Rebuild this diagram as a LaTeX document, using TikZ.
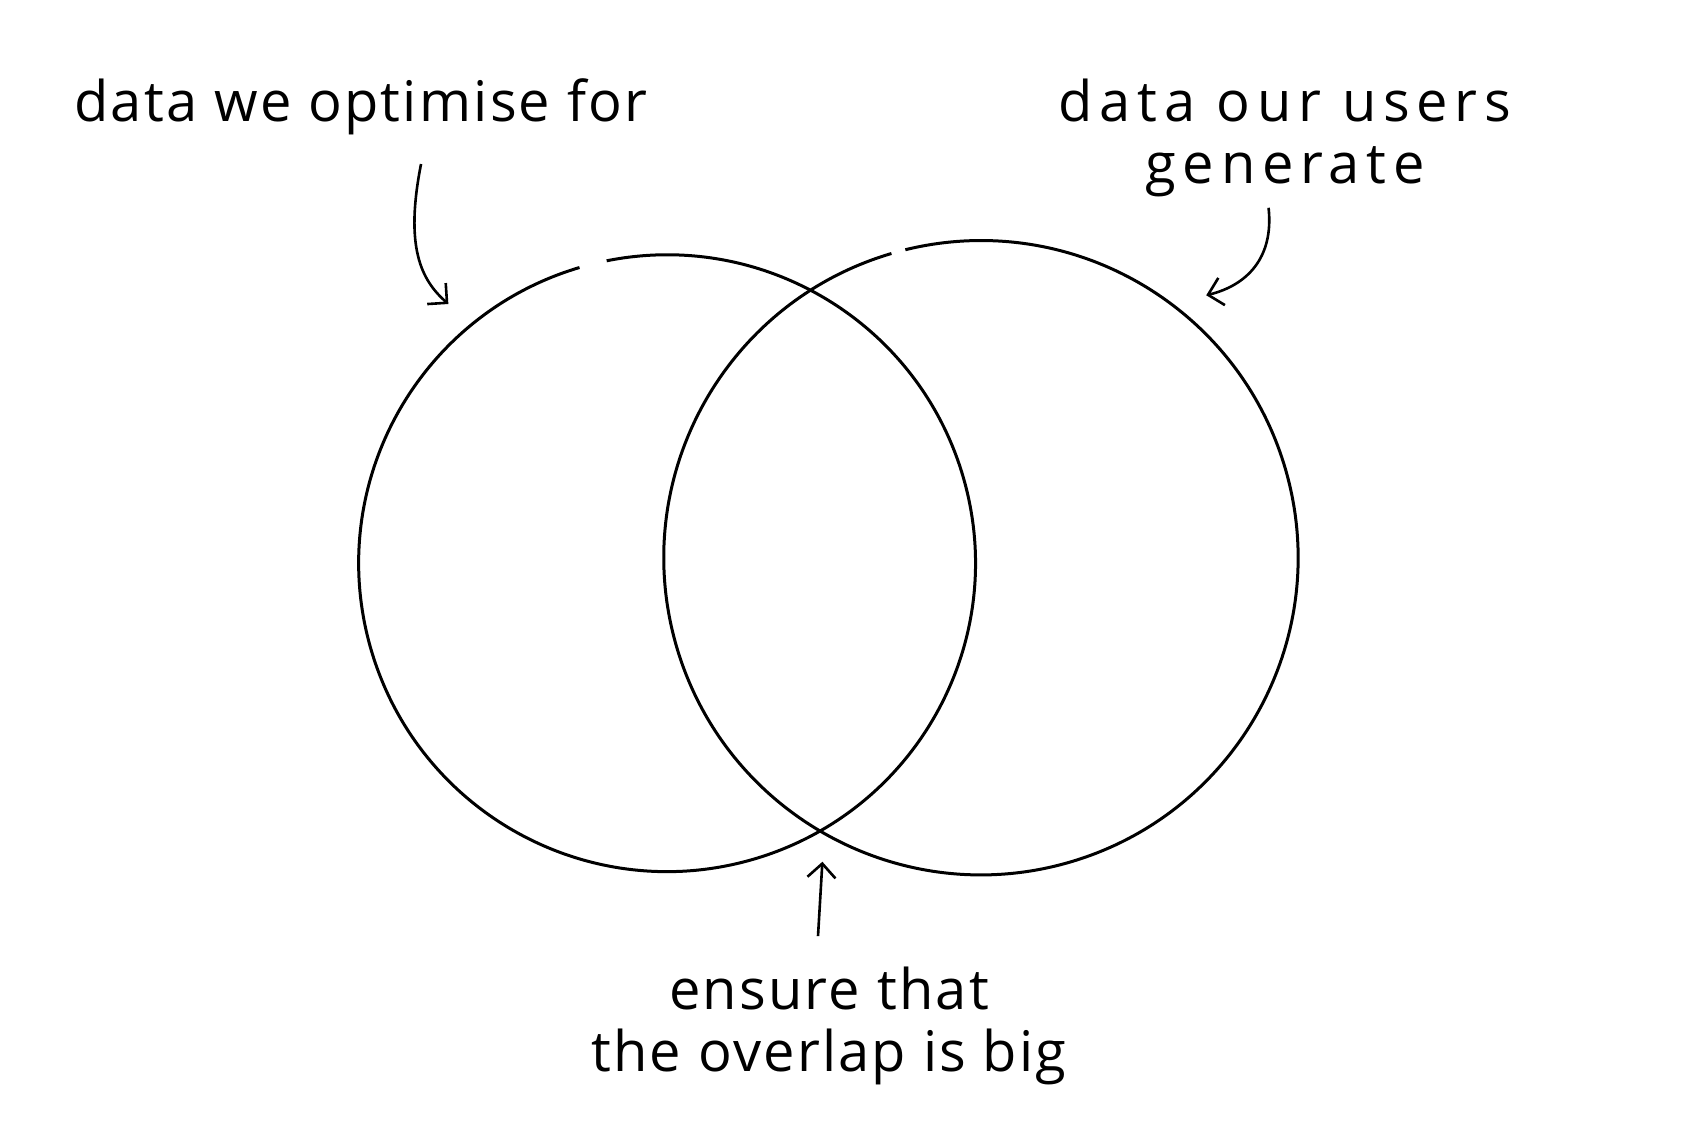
\documentclass[tikz,border=0pt]{standalone}
\usepackage{fontspec}
\setmainfont{Open Sans}
\usetikzlibrary{arrows.meta}
\begin{document}
\begin{tikzpicture}[x=1.0936pt,y=1.0936pt,line width=3pt,
  lbl/.style={font=\fontsize{56}{62}\selectfont\addfontfeature{LetterSpace=4},align=center,inner sep=0pt},
  arr/.style={->,>={Straight Barb[length=14pt,width=28pt]},line width=2.6pt}]
\useasboundingbox (0,0) rectangle (1560,1048);
\coordinate (cl) at (610,533);
\coordinate (cr) at (897,538);
\draw ([shift={(106.5:282)}]cl) arc[start angle=106.5,end angle=461.3,radius=282];
\draw ([shift={(106.4:290)}]cr) arc[start angle=106.4,end angle=463.8,radius=290];
\node[lbl] (t1) at (330,950) {data we optimise for};
\node[lbl,font=\fontsize{56}{62}\selectfont\addfontfeature{LetterSpace=12}] (t2) at (1175,922) {data our users\\generate};
\node[lbl] (t3) at (758,110) {ensure that\\the overlap is big};
\coordinate (a1s) at (385,898);
\coordinate (a1e) at (410,770);
\coordinate (a2s) at (1160,858);
\coordinate (a2e) at (1103,778);
\coordinate (a3s) at (748,192);
\coordinate (a3e) at (752,260);
\draw[arr] (a1s) .. controls (370,822) and (385,792) .. (a1e);
\draw[arr] (a2s) .. controls (1165,812) and (1140,787) .. (a2e);
\draw[arr] (a3s) -- (a3e);
\end{tikzpicture}
\end{document}
